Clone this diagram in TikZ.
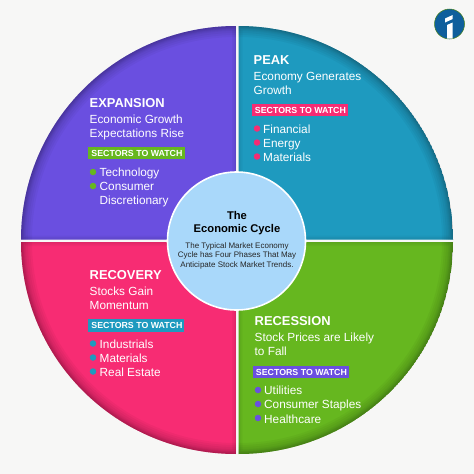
\documentclass[tikz,border=0pt]{standalone}
\usepackage{fontspec}
\setmainfont{Liberation Sans}
\definecolor{paper}{HTML}{F7F7F6}
\definecolor{cviolet}{HTML}{6A4FE0}
\definecolor{cblue}{HTML}{1E9ABF}
\definecolor{cpink}{HTML}{F72C73}
\definecolor{cgreen}{HTML}{66B71F}
\definecolor{ccentre}{HTML}{A9D8FA}
\definecolor{clogo}{HTML}{0F5F9C}
\tikzset{
  x=1pt,y=-1pt,
  head/.style={anchor=base west,inner sep=0pt,text=white,font=\fontsize{12.9}{14}\selectfont\bfseries},
  body/.style={anchor=base west,inner sep=0pt,text=white,font=\fontsize{11.8}{14}\selectfont},
  badge/.style={anchor=west,inner sep=0pt,minimum height=12.5pt,text=white,font=\fontsize{8.8}{10}\selectfont\bfseries},
  dot/.style={circle,inner sep=0pt,minimum size=6.5pt},
  ctitle/.style={anchor=base,inner sep=0pt,text=black,font=\fontsize{11.2}{12}\selectfont\bfseries},
  ctext/.style={anchor=base,inner sep=0pt,text=black!85,font=\fontsize{8}{9}\selectfont},
}
\newcommand{\shadedsector}[3]{%
  \begin{scope}
    \clip #2;
    \fill[#1] #2;
    \foreach \w in {8,5,2}{\draw[black,opacity=0.03,line width=\w pt] #2;}
    \foreach \w in {22,18,14,10,6,3}{\draw[black,opacity=0.035,line width=\w pt] #3;}
  \end{scope}}
\begin{document}
\begin{tikzpicture}
\useasboundingbox (0,0) rectangle (474,474);
\fill[paper] (0,0) rectangle (474,474);
% quadrants
\shadedsector{cviolet}{(236,26) arc[start angle=90,end angle=180,x radius=215,y radius=-213.5] -- (21,239.5) -- (236,239.5) -- cycle}{(236,26) arc[start angle=90,end angle=180,x radius=215,y radius=-213.5]}
\shadedsector{cblue}{(238.5,26) -- (238.5,239.5) -- (453,239.5) arc[start angle=0,end angle=90,x radius=214.5,y radius=-213.5] -- cycle}{(453,239.5) arc[start angle=0,end angle=90,x radius=214.5,y radius=-213.5]}
\shadedsector{cpink}{(21,242) -- (236,242) -- (236,454) arc[start angle=270,end angle=180,x radius=215,y radius=-212] -- cycle}{(236,454) arc[start angle=270,end angle=180,x radius=215,y radius=-212]}
\shadedsector{cgreen}{(238.5,242) -- (453,242) arc[start angle=0,end angle=-90,x radius=214.5,y radius=-212] -- (238.5,242) -- cycle}{(453,242) arc[start angle=0,end angle=-90,x radius=214.5,y radius=-212]}
% centre
\node[circle,draw=white,line width=1.6pt,fill=ccentre,minimum size=138pt,inner sep=0pt] (centre) at (236.5,241) {};
\node[ctitle] (c1) at (237,219) {The};
\node[ctitle] (c2) at (237,232.5) {Economic Cycle};
\node[ctext] (c3) at (237,248.3) {The Typical Market Economy};
\node[ctext] (c4) at (237,257.8) {Cycle has Four Phases That May};
\node[ctext] (c5) at (237,267.2) {Anticipate Stock Market Trends.};
% expansion
\node[head] (e0) at (89.5,107) {EXPANSION};
\node[body] (e1) at (89.5,123) {Economic Growth};
\node[body] (e2) at (89.5,137) {Expectations Rise};
\node[badge,fill=cgreen,minimum width=97pt] (e3) at (87.5,153) {\hspace{1.5pt}SECTORS TO WATCH\hfill};
\node[dot,fill=cgreen] (e4d) at (93,172) {};
\node[body] (e4) at (99.5,176.5) {Technology};
\node[dot,fill=cgreen] (e5d) at (93,186) {};
\node[body] (e5) at (99.5,190.5) {Consumer};
\node[body] (e6) at (99.5,204.5) {Discretionary};
% peak
\node[head] (p0) at (253.5,64) {PEAK};
\node[body] (p1) at (253.5,80) {Economy Generates};
\node[body] (p2) at (253.5,94) {Growth};
\node[badge,fill=cpink,minimum width=96pt] (p3) at (251.5,110) {\hspace{1.5pt}SECTORS TO WATCH\hfill};
\node[dot,fill=cpink] (p4d) at (257,128.5) {};
\node[body] (p4) at (263,133) {Financial};
\node[dot,fill=cpink] (p5d) at (257,142.5) {};
\node[body] (p5) at (263,147) {Energy};
\node[dot,fill=cpink] (p6d) at (257,156.5) {};
\node[body] (p6) at (263,161) {Materials};
% recovery
\node[head] (r0) at (89.5,279) {RECOVERY};
\node[body] (r1) at (89.5,295) {Stocks Gain};
\node[body] (r2) at (89.5,309) {Momentum};
\node[badge,fill=cblue,minimum width=96pt] (r3) at (88,325.5) {\hspace{1.5pt}SECTORS TO WATCH\hfill};
\node[dot,fill=cblue] (r4d) at (93,343.5) {};
\node[body] (r4) at (99.5,348) {Industrials};
\node[dot,fill=cblue] (r5d) at (93,357.5) {};
\node[body] (r5) at (99.5,362) {Materials};
\node[dot,fill=cblue] (r6d) at (93,371.5) {};
\node[body] (r6) at (99.5,376) {Real Estate};
% recession
\node[head] (s0) at (254.5,325.5) {RECESSION};
\node[body] (s1) at (254.5,341.5) {Stock Prices are Likely};
\node[body] (s2) at (254.5,355.5) {to Fall};
\node[badge,fill=cviolet,minimum width=96pt] (s3) at (252.5,372) {\hspace{1.5pt}SECTORS TO WATCH\hfill};
\node[dot,fill=cviolet] (s4d) at (258,390) {};
\node[body] (s4) at (264,394.5) {Utilities};
\node[dot,fill=cviolet] (s5d) at (258,404) {};
\node[body] (s5) at (264,408.5) {Consumer Staples};
\node[dot,fill=cviolet] (s6d) at (258,418) {};
\node[body] (s6) at (264,423) {Healthcare};
% logo
\node[circle,fill=clogo,draw=cgreen!70!black,line width=0.5pt,minimum size=30pt,inner sep=0pt] (logo) at (449.5,24) {};
\fill[white] (447,25) -- (452.7,22.5) -- (452.7,38.7) -- (447,38.7) -- cycle;
\fill[white] (445,18.5) -- (452.7,15) -- (452.7,19) -- (445,22.5) -- cycle;
\end{tikzpicture}
\end{document}
